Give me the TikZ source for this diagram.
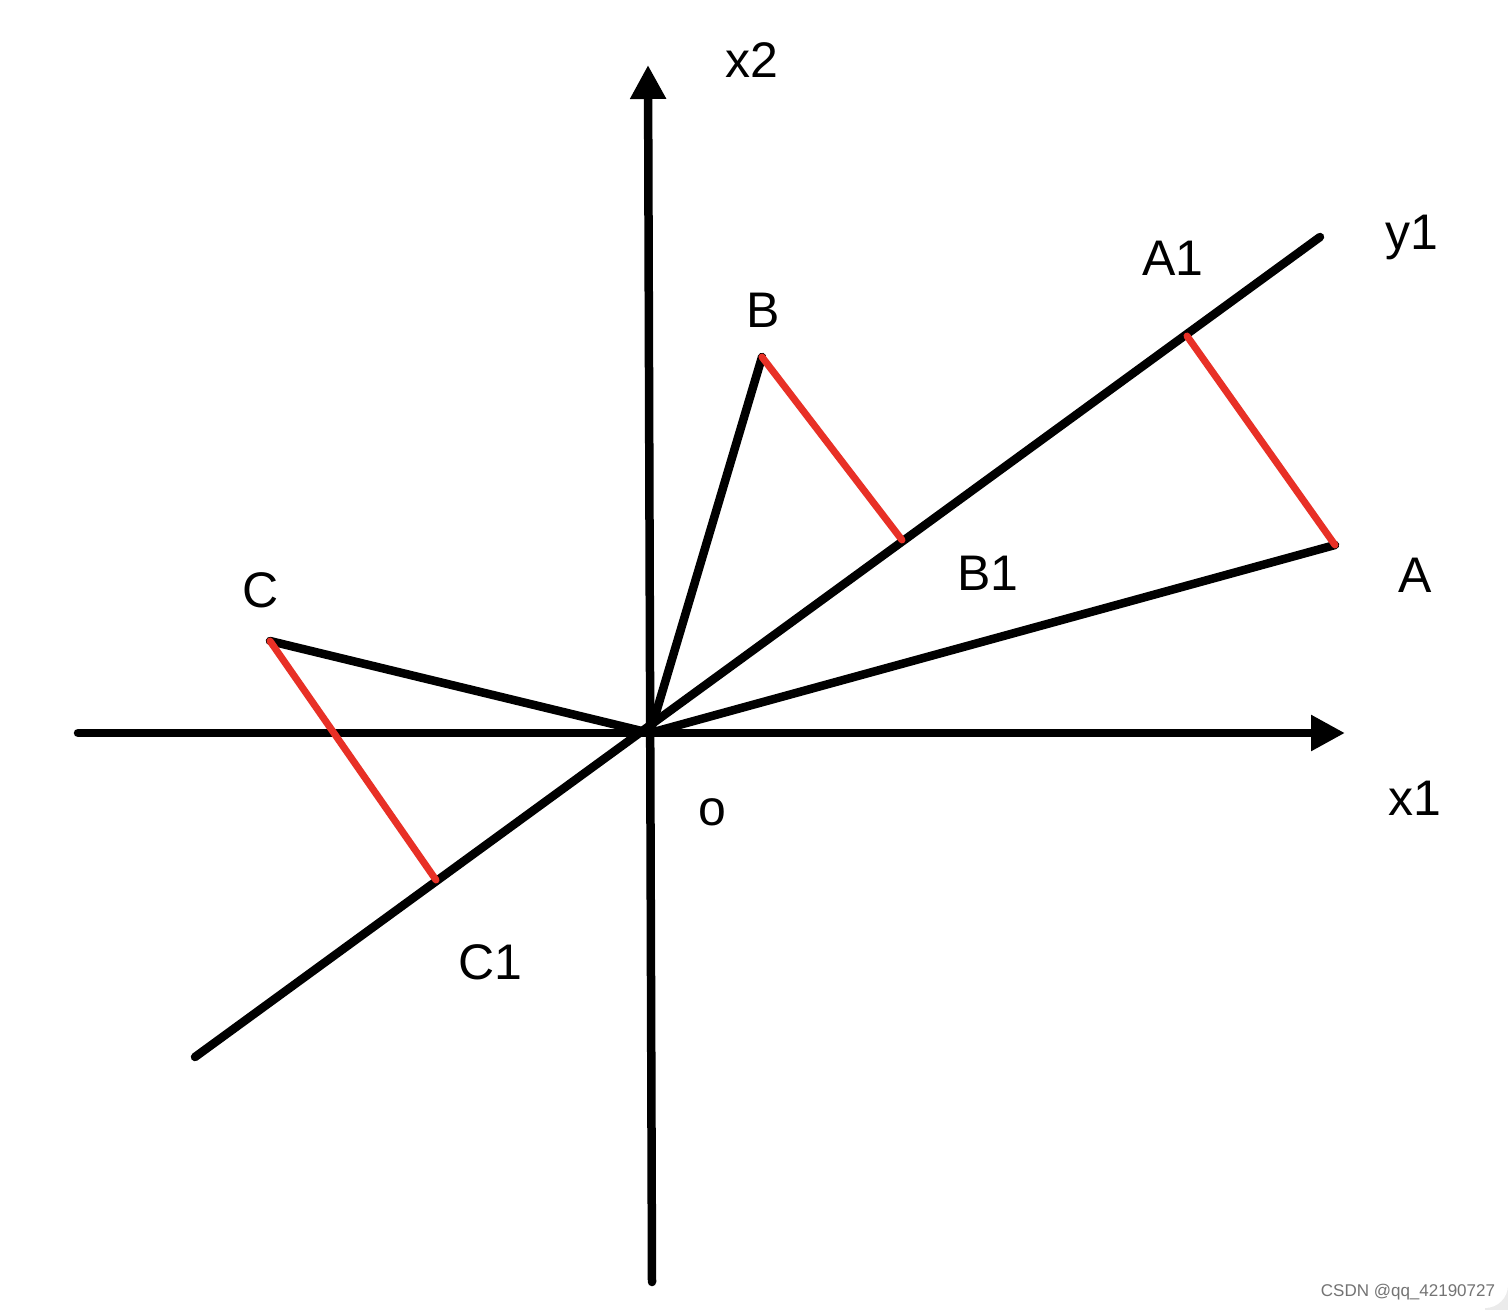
\documentclass[tikz,border=0pt]{standalone}
\usepackage{fontspec}
\setmainfont{Liberation Sans}
\usetikzlibrary{arrows.meta}
\begin{document}
\begin{tikzpicture}[x=1pt,y=-1pt,
  ax/.style={line width=8.5pt,line cap=round,-{Triangle[length=34pt,width=34pt]}},
  blk/.style={line width=8.5pt,line cap=round},
  prj/.style={line width=7pt,line cap=round,draw={rgb,255:red,232;green,48;blue,38}},
  lbl/.style={font=\fontsize{50}{60}\selectfont,inner sep=0pt},
  wm/.style={font=\fontsize{17}{20}\selectfont,text=black!55,inner sep=0pt}]
\useasboundingbox (0,0) rectangle (1508,1310);
\fill[black!8] (1470,1270) rectangle (1508,1310);
\fill[white] (0,0) rectangle (1508,1285);
\fill[white] (0,0) rectangle (1485,1310);
\fill[white] (1485,1285) circle[radius=23pt];
% points
\coordinate (O) at (650,733);
\coordinate (xl) at (78,733);
\coordinate (xr) at (1345,733);
\coordinate (yb) at (652,1282);
\coordinate (yt) at (648,65);
\coordinate (ya) at (195,1057);
\coordinate (yz) at (1320,237);
\coordinate (A) at (1335,545);
\coordinate (A1) at (1187,336);
\coordinate (B) at (762,357);
\coordinate (B1) at (902,540);
\coordinate (C) at (270,641);
\coordinate (C1) at (436,880);
% axes
\draw[ax] (xl) -- (xr);
\draw[ax] (yb) -- (yt);
\draw[blk] (ya) -- (yz);
\draw[blk] (O) -- (A);
\draw[blk] (O) -- (B);
\draw[blk] (O) -- (C);
% projections
\draw[prj] (A) -- (A1);
\draw[prj] (B) -- (B1);
\draw[prj] (C) -- (C1);
% labels
\node[lbl] (lx2) at (752,60) {x2};
\node[lbl] (ly1) at (1412,237) {y1};
\node[lbl] (lA1) at (1173,258) {A1};
\node[lbl] (lB) at (763,310) {B};
\node[lbl] (lB1) at (988,573) {B1};
\node[lbl] (lA) at (1415,575) {A};
\node[lbl] (lC) at (261,590) {C};
\node[lbl] (lO) at (712,812) {o};
\node[lbl] (lx1) at (1415,798) {x1};
\node[lbl] (lC1) at (490,962) {C1};
\node[wm] (wm) at (1408,1292) {CSDN @qq\_42190727};
\end{tikzpicture}
\end{document}
